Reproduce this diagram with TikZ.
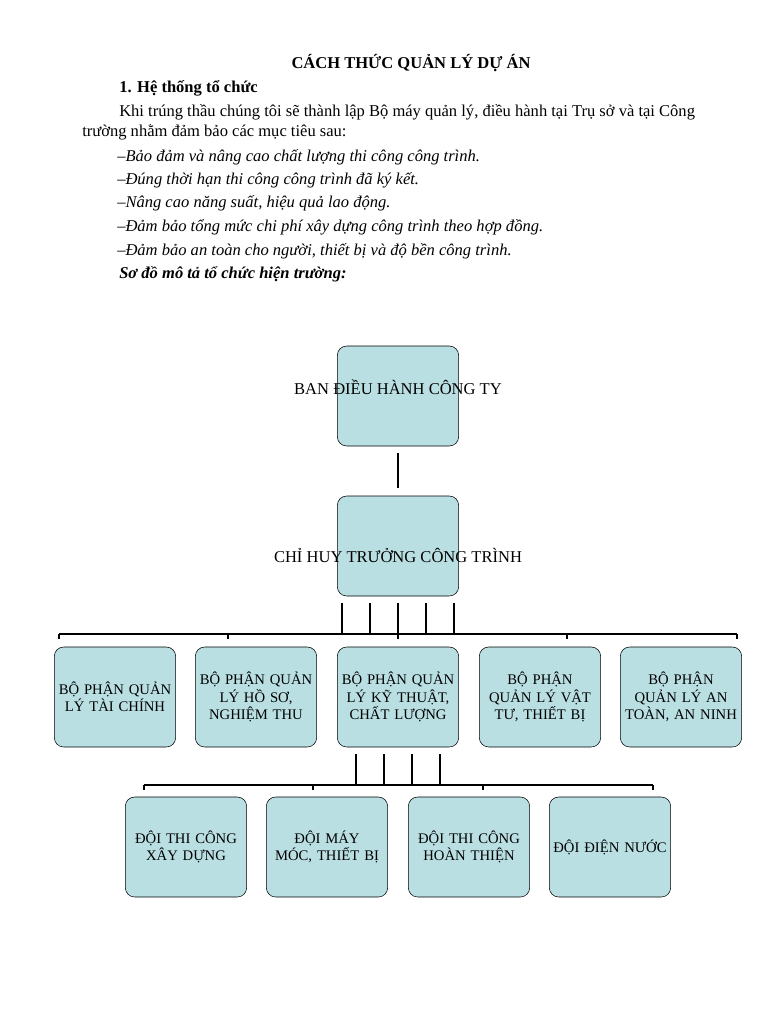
\documentclass[tikz,border=0pt]{standalone}
\usepackage{fontspec}
\setmainfont{Liberation Serif}
\begin{document}
\begin{tikzpicture}[x=0.75pt,y=-0.75pt,
  every node/.style={font=\fontsize{12.4}{14}\selectfont},
  box/.style={draw=black,fill={rgb,255:red,185;green,223;blue,227},rounded corners=7pt,minimum width=91pt,minimum height=75pt,inner sep=0pt},
  lbl/.style={align=center,inner sep=0pt},
  wlbl/.style={align=center,inner sep=0pt,text width=86pt,font=\fontsize{11}{13}\selectfont},
  txt/.style={anchor=base west,inner sep=0pt},
  conn/.style={line width=2.2pt},
  bus/.style={line width=2.2pt}]
\useasboundingbox (0,0) rectangle (768,1024);
\node[font=\fontsize{12.4}{14}\selectfont\bfseries,anchor=base,inner sep=0pt] (title) at (411,69) {CÁCH THỨC QUẢN LÝ DỰ ÁN};
\node[txt,font=\fontsize{12.4}{14}\selectfont\bfseries] (h1) at (119,93) {1. Hệ thống tổ chức};
\node[txt] (p1) at (119,116) {Khi trúng thầu chúng tôi sẽ thành lập Bộ máy quản lý, điều hành tại Trụ sở và tại Công};
\node[txt] (p2) at (82,137) {trường nhằm đảm bảo các mục tiêu sau:};
\node[txt,font=\fontsize{12.4}{14}\selectfont\itshape] (b1) at (117,161) {–Bảo đảm và nâng cao chất lượng thi công công trình.};
\node[txt,font=\fontsize{12.4}{14}\selectfont\itshape] (b2) at (117,184) {–Đúng thời hạn thi công công trình đã ký kết.};
\node[txt,font=\fontsize{12.4}{14}\selectfont\itshape] (b3) at (117,207) {–Nâng cao năng suất, hiệu quả lao động.};
\node[txt,font=\fontsize{12.4}{14}\selectfont\itshape] (b4) at (117,231) {–Đảm bảo tổng mức chi phí xây dựng công trình theo hợp đồng.};
\node[txt,font=\fontsize{12.4}{14}\selectfont\itshape] (b5) at (117,255) {–Đảm bảo an toàn cho người, thiết bị và độ bền công trình.};
\node[txt,font=\fontsize{12.4}{14}\selectfont\bfseries\itshape] (b6) at (119,278) {Sơ đồ mô tả tổ chức hiện trường:};

\node[box] (top) at (398,396) {};
\node[lbl] at (398,387) {BAN ĐIỀU HÀNH CÔNG TY};
\node[box] (chief) at (398,546) {};
\node[lbl] at (398,555) {CHỈ HUY TRƯỞNG CÔNG TRÌNH};

\foreach \n/\x in {m1/115,m2/256,m3/398,m4/540,m5/681} \node[box] (\n) at (\x,697) {};
\foreach \n/\x in {d1/186,d2/327,d3/469,d4/610} \node[box] (\n) at (\x,847) {};

\node[wlbl] (t1) at (m1.center) {BỘ PHẬN QUẢN LÝ TÀI CHÍNH};
\node[wlbl] (t2) at (m2.center) {BỘ PHẬN QUẢN LÝ HỒ SƠ, NGHIỆM THU};
\node[wlbl] (t3) at (m3.center) {BỘ PHẬN QUẢN LÝ KỸ THUẬT, CHẤT LƯỢNG};
\node[wlbl] (t4) at (m4.center) {BỘ PHẬN QUẢN LÝ VẬT TƯ, THIẾT BỊ};
\node[wlbl] (t5) at (m5.center) {BỘ PHẬN QUẢN LÝ AN TOÀN, AN NINH};
\node[wlbl] (u1) at (d1.center) {ĐỘI THI CÔNG XÂY DỰNG};
\node[wlbl] (u2) at (d2.center) {ĐỘI MÁY MÓC, THIẾT BỊ};
\node[wlbl] (u3) at (d3.center) {ĐỘI THI CÔNG HOÀN THIỆN};
\node[wlbl] (u4) at (d4.center) {ĐỘI ĐIỆN NƯỚC};

\coordinate (a1) at (398,453); \coordinate (a2) at (398,488);
\draw[conn] (a1) -- (a2);
\foreach \x in {342,370,398,426,454} {\coordinate (s\x) at (\x,603); \coordinate (e\x) at (\x,634); \draw[conn] (s\x) -- (e\x);}
\coordinate (bl) at (59,634); \coordinate (br) at (737,634);
\draw[bus] (bl) -- (br);
\foreach \x in {59,228,398,567,737} {\coordinate (k\x) at (\x,634); \coordinate (q\x) at (\x,639); \draw[conn] (k\x) -- (q\x);}
\foreach \x in {356,384,412,440} {\coordinate (v\x) at (\x,754); \coordinate (w\x) at (\x,785); \draw[line width=1.5pt] (v\x) -- (w\x);}
\coordinate (cl) at (144,785); \coordinate (cr) at (653,785);
\draw[bus] (cl) -- (cr);
\foreach \x in {144,313,483,653} {\coordinate (g\x) at (\x,785); \coordinate (h\x) at (\x,790); \draw[conn] (g\x) -- (h\x);}
\end{tikzpicture}
\end{document}
